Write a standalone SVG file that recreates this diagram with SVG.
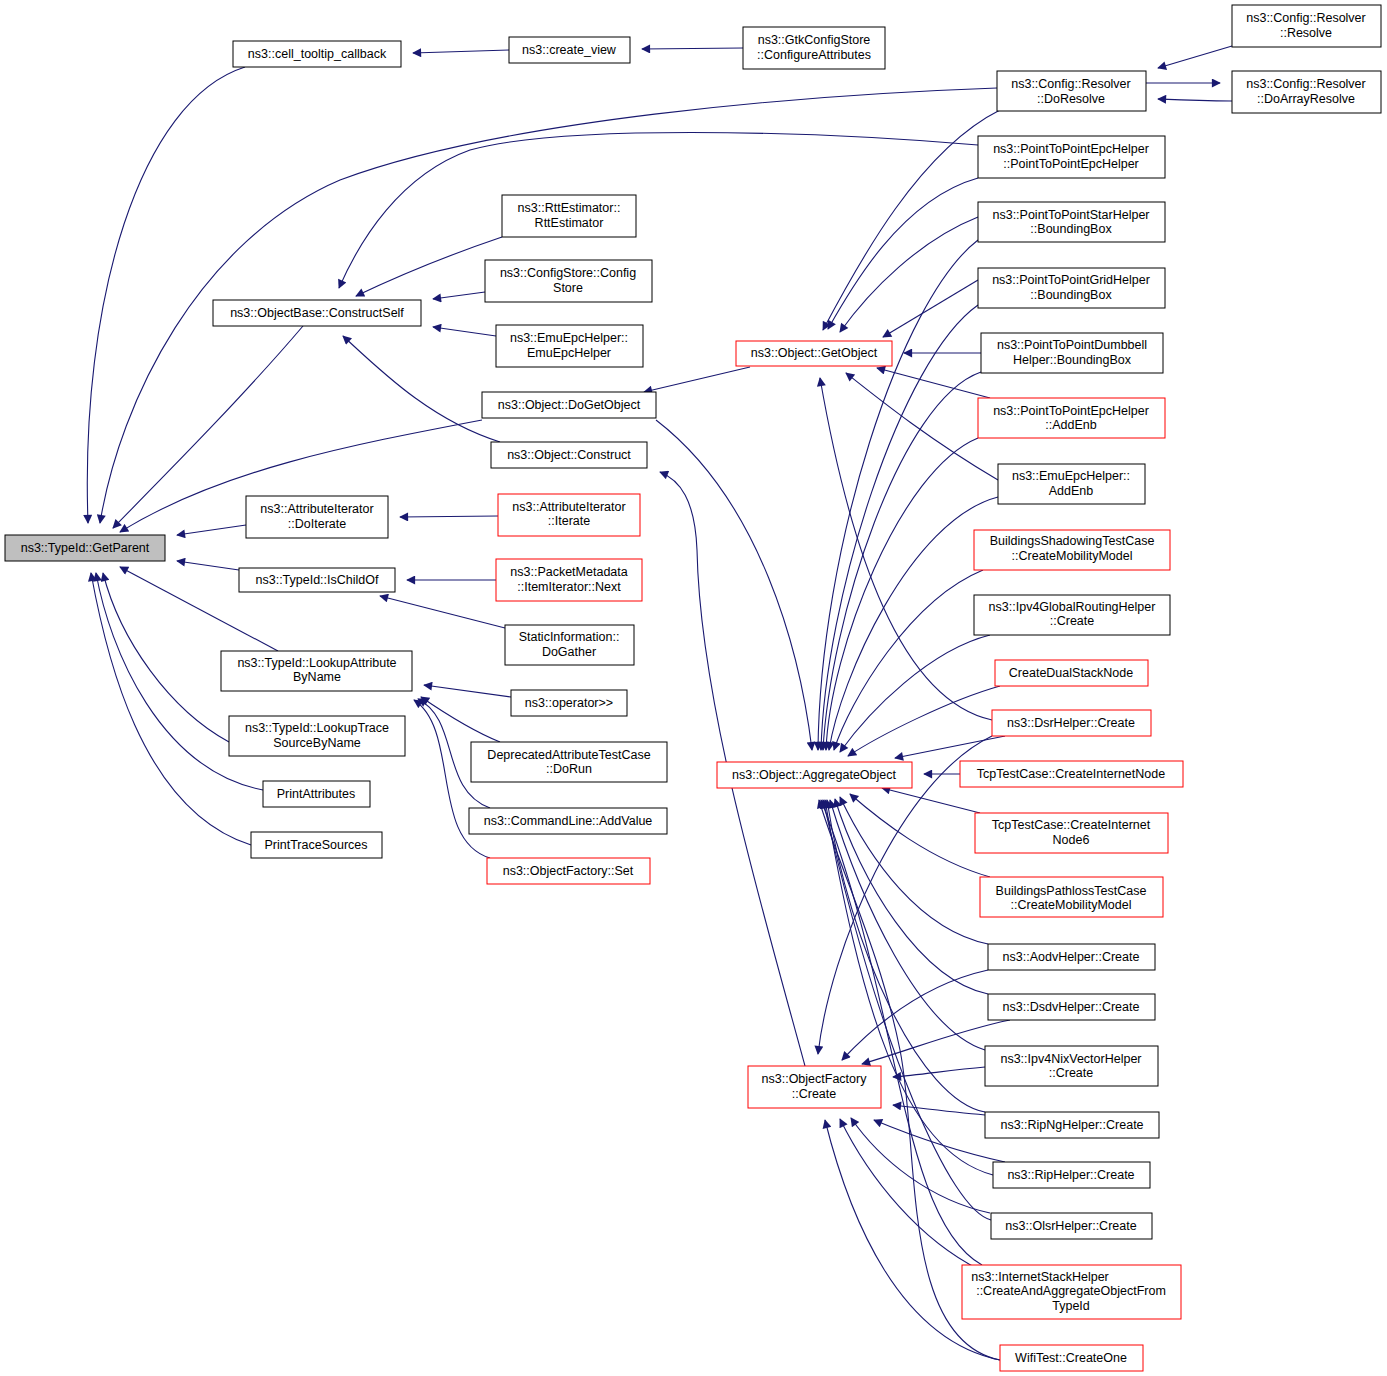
<svg xmlns="http://www.w3.org/2000/svg" width="1387" height="1376" viewBox="0 0 1387 1376">
<style>
.n rect{fill:#fff;stroke:#000;stroke-width:1}
.r rect{stroke:#f00}
.g rect{fill:#bfbfbf}
text{font-family:"Liberation Sans",Arial,sans-serif;font-size:12.5px;text-anchor:middle;fill:#000}
#edges path{fill:none;stroke:#191970;stroke-width:1.1;marker-end:url(#a)}
</style>
<defs><marker id="a" viewBox="0 0 10 10" refX="9" refY="5" markerWidth="11" markerHeight="9" markerUnits="userSpaceOnUse" orient="auto"><path d="M0,0 L10,5 L0,10 z" fill="#191970"/></marker></defs>
<rect width="1387" height="1376" fill="#fff"/>
<g id="edges">
<path d="M245,67 C140,100 80,300 88,523"/>
<path d="M509,50 L413,53"/>
<path d="M743,48 L642,49"/>
<path d="M997,88 C800,95 500,120 340,180 C200,240 120,400 100,523"/>
<path d="M1232,46 L1158,68"/>
<path d="M1146,83 L1220,83"/>
<path d="M1232,101 C1200,101 1180,100 1158,99"/>
<path d="M978,145 C800,130 560,125 470,150 C400,175 360,240 339,288"/>
<path d="M978,178 C900,200 850,290 828,329"/>
<path d="M502,237 C440,258 400,275 356,296"/>
<path d="M485,292 L433,299"/>
<path d="M496,336 L433,327"/>
<path d="M500,442 C430,420 380,370 343,336"/>
<path d="M303,326 C240,400 160,480 113,528"/>
<path d="M482,420 C350,445 220,470 120,532"/>
<path d="M750,367 L644,392"/>
<path d="M1000,110 C920,150 860,260 823,330"/>
<path d="M978,217 C920,240 870,290 840,332"/>
<path d="M978,280 L883,337"/>
<path d="M981,353 L904,353"/>
<path d="M990,398 L877,368"/>
<path d="M998,480 C930,440 880,400 846,373"/>
<path d="M992,720 C900,700 850,550 820,378"/>
<path d="M656,420 C760,500 800,650 812,750"/>
<path d="M978,240 C900,300 820,550 818,750"/>
<path d="M978,305 C900,360 825,600 821,750"/>
<path d="M981,372 C900,400 830,620 823,750"/>
<path d="M978,438 C900,470 830,650 826,750"/>
<path d="M998,497 C910,520 840,680 829,750"/>
<path d="M983,570 C910,600 850,700 834,750"/>
<path d="M990,635 C930,650 870,710 840,752"/>
<path d="M1000,686 C950,700 880,735 848,756"/>
<path d="M1005,736 L895,758"/>
<path d="M960,774 L924,774"/>
<path d="M980,813 L882,788"/>
<path d="M990,877 C930,860 880,820 850,794"/>
<path d="M988,944 C920,930 870,860 840,797"/>
<path d="M988,994 C920,980 860,880 835,799"/>
<path d="M985,1050 C920,1030 860,900 830,800"/>
<path d="M985,1112 C920,1100 850,950 827,800"/>
<path d="M993,1175 C900,1150 860,1000 825,800"/>
<path d="M991,1220 C950,1210 880,1050 823,800"/>
<path d="M982,1265 C900,1220 900,1000 821,800"/>
<path d="M1000,1360 C900,1340 920,1150 900,1050 C880,950 840,870 819,800"/>
<path d="M992,736 C900,780 830,950 818,1054"/>
<path d="M805,1066 C760,900 700,700 697,550 C695,500 680,480 660,472"/>
<path d="M988,970 C920,985 870,1030 842,1060"/>
<path d="M1010,1020 C960,1030 910,1050 862,1064"/>
<path d="M985,1067 C950,1070 920,1075 893,1077"/>
<path d="M985,1115 C950,1112 920,1108 893,1105"/>
<path d="M1005,1162 C950,1150 910,1135 874,1120"/>
<path d="M990,1213 C930,1200 880,1160 851,1118"/>
<path d="M980,1270 C920,1240 870,1180 840,1119"/>
<path d="M1000,1360 C900,1340 850,1220 825,1120"/>
<path d="M246,525 L177,535"/>
<path d="M239,570 L177,561"/>
<path d="M278,651 L120,567"/>
<path d="M229,742 C170,710 120,640 103,573"/>
<path d="M263,790 C160,770 110,650 96,573"/>
<path d="M251,845 C140,810 105,650 91,573"/>
<path d="M498,516 L400,517"/>
<path d="M496,580 L407,580"/>
<path d="M505,628 L380,596"/>
<path d="M511,697 L424,685"/>
<path d="M500,742 C470,730 440,710 421,697"/>
<path d="M490,808 C440,790 460,720 418,699"/>
<path d="M490,858 C430,840 460,730 414,700"/>
</g>
<g id="GetParent" class="n g"><rect x="5" y="535" width="160" height="26"/><text x="85" y="552">ns3::TypeId::GetParent</text></g>
<g id="cellTooltip" class="n"><rect x="233" y="41" width="168" height="26"/><text x="317" y="58">ns3::cell_tooltip_callback</text></g>
<g id="createView" class="n"><rect x="509" y="37" width="121" height="26"/><text x="569" y="54">ns3::create_view</text></g>
<g id="gtk" class="n"><rect x="743" y="27" width="142" height="42"/><text x="814" y="44">ns3::GtkConfigStore</text><text x="814" y="59">::ConfigureAttributes</text></g>
<g id="resolve" class="n"><rect x="1232" y="5" width="149" height="42"/><text x="1306" y="22">ns3::Config::Resolver</text><text x="1306" y="37">::Resolve</text></g>
<g id="doResolve" class="n"><rect x="997" y="71" width="149" height="40"/><text x="1071" y="88">ns3::Config::Resolver</text><text x="1071" y="103">::DoResolve</text></g>
<g id="doArray" class="n"><rect x="1232" y="71" width="149" height="42"/><text x="1306" y="88">ns3::Config::Resolver</text><text x="1306" y="103">::DoArrayResolve</text></g>
<g id="p2pCtor" class="n"><rect x="978" y="136" width="187" height="42"/><text x="1071" y="153">ns3::PointToPointEpcHelper</text><text x="1071" y="168">::PointToPointEpcHelper</text></g>
<g id="rtt" class="n"><rect x="502" y="195" width="134" height="42"/><text x="569" y="212">ns3::RttEstimator::</text><text x="569" y="227">RttEstimator</text></g>
<g id="configStore" class="n"><rect x="485" y="260" width="167" height="42"/><text x="568" y="277">ns3::ConfigStore::Config</text><text x="568" y="292">Store</text></g>
<g id="constructSelf" class="n"><rect x="213" y="300" width="208" height="26"/><text x="317" y="317">ns3::ObjectBase::ConstructSelf</text></g>
<g id="emuCtor" class="n"><rect x="496" y="325" width="147" height="42"/><text x="569" y="342">ns3::EmuEpcHelper::</text><text x="569" y="357">EmuEpcHelper</text></g>
<g id="getObject" class="n r"><rect x="736" y="341" width="156" height="25"/><text x="814" y="357">ns3::Object::GetObject</text></g>
<g id="star" class="n"><rect x="978" y="202" width="187" height="40"/><text x="1071" y="219">ns3::PointToPointStarHelper</text><text x="1071" y="233">::BoundingBox</text></g>
<g id="grid" class="n"><rect x="978" y="268" width="187" height="40"/><text x="1071" y="284">ns3::PointToPointGridHelper</text><text x="1071" y="299">::BoundingBox</text></g>
<g id="dumbbell" class="n"><rect x="981" y="333" width="182" height="40"/><text x="1072" y="349">ns3::PointToPointDumbbell</text><text x="1072" y="364">Helper::BoundingBox</text></g>
<g id="p2pAddEnb" class="n r"><rect x="978" y="398" width="187" height="40"/><text x="1071" y="415">ns3::PointToPointEpcHelper</text><text x="1071" y="429">::AddEnb</text></g>
<g id="emuAddEnb" class="n"><rect x="998" y="464" width="147" height="40"/><text x="1071" y="480">ns3::EmuEpcHelper::</text><text x="1071" y="495">AddEnb</text></g>
<g id="doGetObject" class="n"><rect x="482" y="392" width="174" height="26"/><text x="569" y="409">ns3::Object::DoGetObject</text></g>
<g id="construct" class="n"><rect x="491" y="442" width="156" height="26"/><text x="569" y="459">ns3::Object::Construct</text></g>
<g id="doIterate" class="n"><rect x="246" y="496" width="142" height="42"/><text x="317" y="513">ns3::AttributeIterator</text><text x="317" y="528">::DoIterate</text></g>
<g id="iterate" class="n r"><rect x="498" y="494" width="142" height="42"/><text x="569" y="511">ns3::AttributeIterator</text><text x="569" y="525">::Iterate</text></g>
<g id="isChildOf" class="n"><rect x="239" y="568" width="156" height="24"/><text x="317" y="584">ns3::TypeId::IsChildOf</text></g>
<g id="packetMeta" class="n r"><rect x="496" y="559" width="146" height="42"/><text x="569" y="576">ns3::PacketMetadata</text><text x="569" y="591">::ItemIterator::Next</text></g>
<g id="staticInfo" class="n"><rect x="505" y="625" width="129" height="40"/><text x="569" y="641">StaticInformation::</text><text x="569" y="656">DoGather</text></g>
<g id="lookupAttr" class="n"><rect x="221" y="651" width="191" height="40"/><text x="317" y="667">ns3::TypeId::LookupAttribute</text><text x="317" y="681">ByName</text></g>
<g id="operator" class="n"><rect x="511" y="690" width="116" height="26"/><text x="569" y="707">ns3::operator&gt;&gt;</text></g>
<g id="lookupTrace" class="n"><rect x="229" y="716" width="176" height="40"/><text x="317" y="732">ns3::TypeId::LookupTrace</text><text x="317" y="747">SourceByName</text></g>
<g id="deprecated" class="n"><rect x="471" y="742" width="196" height="40"/><text x="569" y="759">DeprecatedAttributeTestCase</text><text x="569" y="773">::DoRun</text></g>
<g id="printAttr" class="n"><rect x="263" y="781" width="107" height="26"/><text x="316" y="798">PrintAttributes</text></g>
<g id="addValue" class="n"><rect x="469" y="808" width="198" height="26"/><text x="568" y="825">ns3::CommandLine::AddValue</text></g>
<g id="printTrace" class="n"><rect x="251" y="832" width="131" height="26"/><text x="316" y="849">PrintTraceSources</text></g>
<g id="factorySet" class="n r"><rect x="487" y="858" width="163" height="26"/><text x="568" y="875">ns3::ObjectFactory::Set</text></g>
<g id="shadowing" class="n r"><rect x="974" y="530" width="196" height="40"/><text x="1072" y="545">BuildingsShadowingTestCase</text><text x="1072" y="560">::CreateMobilityModel</text></g>
<g id="ipv4Global" class="n"><rect x="974" y="595" width="196" height="40"/><text x="1072" y="611">ns3::Ipv4GlobalRoutingHelper</text><text x="1072" y="625">::Create</text></g>
<g id="dualStack" class="n r"><rect x="995" y="660" width="153" height="26"/><text x="1071" y="677">CreateDualStackNode</text></g>
<g id="dsr" class="n r"><rect x="992" y="710" width="159" height="26"/><text x="1071" y="727">ns3::DsrHelper::Create</text></g>
<g id="aggregate" class="n r"><rect x="717" y="762" width="195" height="26"/><text x="814" y="779">ns3::Object::AggregateObject</text></g>
<g id="tcpNode" class="n r"><rect x="960" y="761" width="223" height="26"/><text x="1071" y="778">TcpTestCase::CreateInternetNode</text></g>
<g id="tcpNode6" class="n r"><rect x="975" y="813" width="193" height="40"/><text x="1071" y="829">TcpTestCase::CreateInternet</text><text x="1071" y="844">Node6</text></g>
<g id="pathloss" class="n r"><rect x="980" y="877" width="183" height="40"/><text x="1071" y="895">BuildingsPathlossTestCase</text><text x="1071" y="909">::CreateMobilityModel</text></g>
<g id="aodv" class="n"><rect x="988" y="944" width="167" height="26"/><text x="1071" y="961">ns3::AodvHelper::Create</text></g>
<g id="dsdv" class="n"><rect x="988" y="994" width="167" height="26"/><text x="1071" y="1011">ns3::DsdvHelper::Create</text></g>
<g id="nix" class="n"><rect x="985" y="1046" width="173" height="40"/><text x="1071" y="1063">ns3::Ipv4NixVectorHelper</text><text x="1071" y="1077">::Create</text></g>
<g id="ripng" class="n"><rect x="985" y="1112" width="174" height="26"/><text x="1072" y="1129">ns3::RipNgHelper::Create</text></g>
<g id="rip" class="n"><rect x="993" y="1162" width="157" height="26"/><text x="1071" y="1179">ns3::RipHelper::Create</text></g>
<g id="olsr" class="n"><rect x="991" y="1213" width="161" height="26"/><text x="1071" y="1230">ns3::OlsrHelper::Create</text></g>
<g id="internetStack" class="n r"><rect x="962" y="1265" width="219" height="54"/><text x="1040" y="1281">ns3::InternetStackHelper</text><text x="1071" y="1295">::CreateAndAggregateObjectFrom</text><text x="1071" y="1310">TypeId</text></g>
<g id="wifi" class="n r"><rect x="1000" y="1345" width="143" height="26"/><text x="1071" y="1362">WifiTest::CreateOne</text></g>
<g id="factoryCreate" class="n r"><rect x="748" y="1066" width="133" height="42"/><text x="814" y="1083">ns3::ObjectFactory</text><text x="814" y="1098">::Create</text></g>
</svg>
